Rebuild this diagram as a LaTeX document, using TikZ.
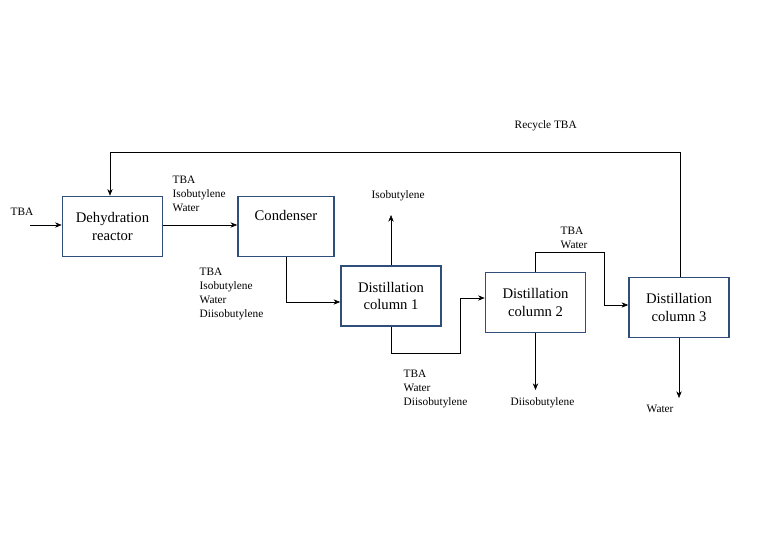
\documentclass[tikz,border=0pt]{standalone}
\usepackage{fontspec}
\setmainfont{Liberation Serif}
\usetikzlibrary{arrows.meta, positioning}
\definecolor{boxblue}{HTML}{2F4F7A}

\begin{document}
\begin{tikzpicture}[
    x=0.75pt, y=-0.75pt,
    unit/.style={draw=boxblue, line width=1.2pt, rectangle, minimum width=75pt, minimum height=45pt, align=center, font=\fontsize{11}{13}\selectfont},
    stream/.style={align=left, font=\fontsize{8.5}{10.5}\selectfont},
    flow/.style={-{Stealth[length=5pt, width=4pt]}, thin}
]
    \useasboundingbox (0,0) rectangle (768,543);

    % Units
    \node[unit] (reactor) at (112.5,226.5) {Dehydration\\reactor};
    \node[unit, minimum width=72pt] (cond) at (286,226.5) {Condenser\\[3pt]};
    \node[unit] (col1) at (391,296) {Distillation\\column 1};
    \node[unit] (col2) at (535.5,302.5) {Distillation\\column 2};
    \node[unit] (col3) at (679,307.5) {Distillation\\column 3};

    % Feed
    \coordinate (feed) at (30,225);
    \node[stream, anchor=west] (tba) at (6,212) {TBA};

    % Turning points
    \coordinate (c1) at (col1.south |- 0,353);
    \coordinate (c2) at (460,353);
    \coordinate (c3) at (460,298);
    \coordinate (d1) at (col2.north |- 0,252);
    \coordinate (d2) at (604,252);
    \coordinate (d3) at (604,305);
    \coordinate (r1) at (680,152);
    \coordinate (r2) at (110,152);

    % Free ends
    \coordinate (isoout) at (col1.north |- 0,215);
    \coordinate (diout) at (col2.south |- 0,390);
    \coordinate (waterout) at (col3.south |- 0,398);

    % Arrows
    \draw[flow] (feed) -- (reactor.west |- feed);
    \draw[flow] (reactor.east |- feed) -- (cond.west |- feed);
    \draw[flow] (cond.south) |- (col1.west |- 0,302);
    \draw[flow] (col1.north) -- (isoout);
    \draw[flow] (col1.south) -- (c1) -- (c2) -- (c3) -- (col2.west |- c3);
    \draw[flow] (col2.north) -- (d1) -- (d2) -- (d3) -- (col3.west |- d3);
    \draw[flow] (col2.south) -- (diout);
    \draw[flow] (col3.south) -- (waterout);
    \draw[flow] (col3.north -| r1) -- (r1) -- (r2) -- (reactor.north -| r2);

    % Stream labels
    \node[stream, anchor=north west] (s1) at (168,171) {TBA\\Isobutylene\\Water};
    \node[stream, anchor=north west] (s2) at (195,263) {TBA\\Isobutylene\\Water\\Diisobutylene};
    \node[stream, anchor=west] (s3) at (367,196) {Isobutylene};
    \node[stream, anchor=north west] (s4) at (399,365) {TBA\\Water\\Diisobutylene};
    \node[stream, anchor=north west] (s5) at (556,222) {TBA\\Water};
    \node[stream, anchor=west] (s6) at (506,403) {Diisobutylene};
    \node[stream, anchor=west] (s7) at (642,409) {Water};
    \node[stream, anchor=west] (s8) at (510,126) {Recycle TBA};
\end{tikzpicture}
\end{document}
